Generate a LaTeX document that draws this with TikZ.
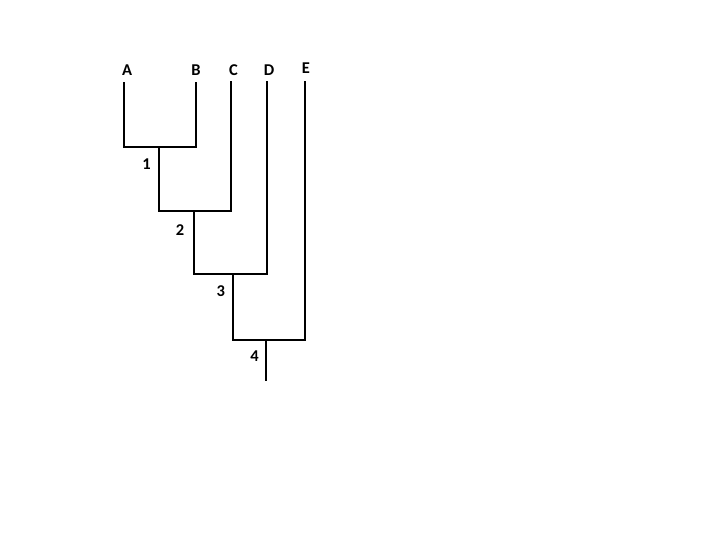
\documentclass[tikz,border=0pt]{standalone}
\usepackage{fontspec}
\setmainfont{Carlito}
\begin{document}
\begin{tikzpicture}[x=1pt,y=-1pt,
  branch/.style={line width=2pt,line cap=rect},
  taxon/.style={font=\fontsize{16.5}{18}\selectfont\bfseries,inner sep=0pt},
  cladelabel/.style={font=\fontsize{16.5}{18}\selectfont\bfseries,inner sep=0pt}]
\useasboundingbox (0,0) rectangle (720,540);
% taxa labels
\node[taxon] (A) at (127,70.5) {A};
\node[taxon] (B) at (196,70.5) {B};
\node[taxon] (C) at (233.5,70) {C};
\node[taxon] (D) at (269,70) {D};
\node[taxon] (E) at (306,68.3) {E};
% leaf tips
\coordinate (At) at (124,83);
\coordinate (Bt) at (196,83);
\coordinate (Ct) at (231,82);
\coordinate (Dt) at (267,82);
\coordinate (Et) at (305,82);
% junctions
\coordinate (Ab) at (124,147);
\coordinate (Bb) at (196,147);
\coordinate (n1) at (159,147);
\coordinate (n1b) at (159,211);
\coordinate (Cb) at (231,211);
\coordinate (n2) at (194,211);
\coordinate (n2b) at (194,274);
\coordinate (Db) at (267,274);
\coordinate (n3) at (233,274);
\coordinate (n3b) at (233,340);
\coordinate (Eb) at (305,340);
\coordinate (n4) at (266,340);
\coordinate (root) at (266,380);
% branches
\draw[branch] (At) -- (Ab) -- (Bb) -- (Bt);
\draw[branch] (n1) -- (n1b) -- (Cb) -- (Ct);
\draw[branch] (n2) -- (n2b) -- (Db) -- (Dt);
\draw[branch] (n3) -- (n3b) -- (Eb) -- (Et);
\draw[branch] (n4) -- (root);
% clade labels
\node[cladelabel] (l1) at (146.5,164.5) {1};
\node[cladelabel] (l2) at (180,230) {2};
\node[cladelabel] (l3) at (220.7,291) {3};
\node[cladelabel] (l4) at (254.5,356.5) {4};
\end{tikzpicture}
\end{document}
